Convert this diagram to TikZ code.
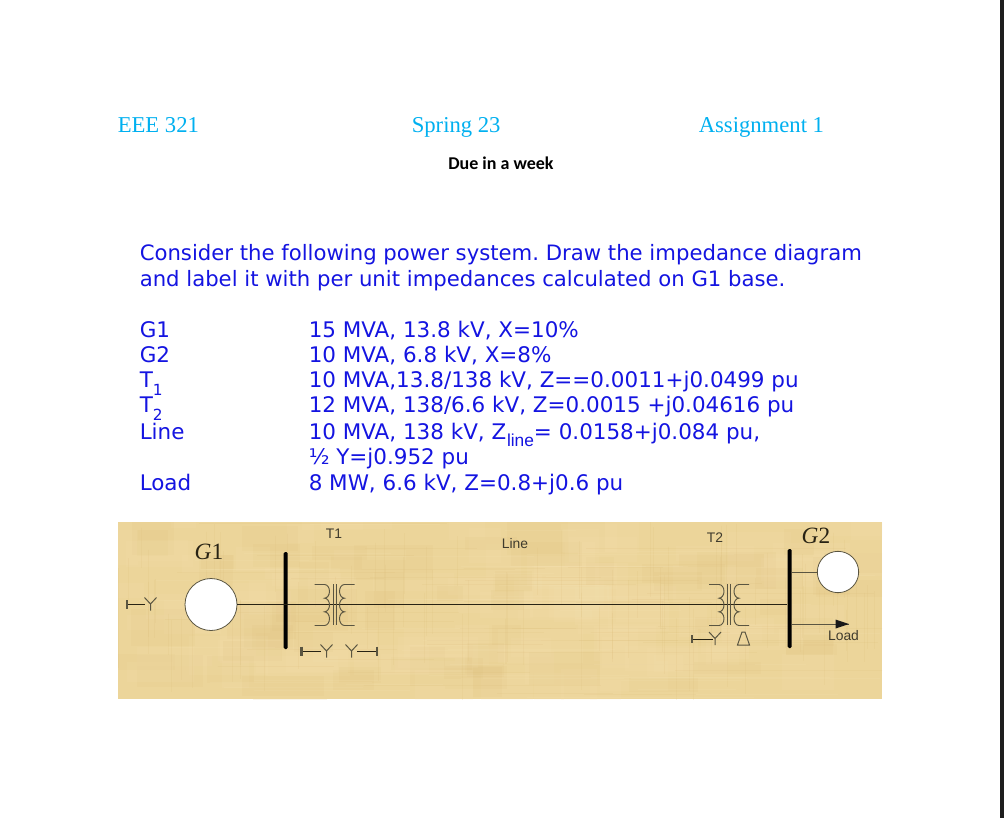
\documentclass[tikz,border=0pt]{standalone}
\usepackage{fontspec}
\setmainfont{DejaVu Sans}
\newfontfamily\hdfont{Liberation Serif}
\newfontfamily\duefont{Carlito}
\newfontfamily\arialfont{Liberation Sans}
\definecolor{hdcyan}{RGB}{0,176,240}
\definecolor{txtblue}{RGB}{20,20,225}
\definecolor{papyrus}{RGB}{236,213,154}
\definecolor{papyrusA}{RGB}{248,230,184}
\definecolor{papyrusB}{RGB}{218,186,118}
\definecolor{ink}{RGB}{40,35,20}
\definecolor{soft}{RGB}{90,85,65}
\definecolor{edgebar}{RGB}{30,30,30}
\newcommand{\coilL}[2]{% left winding centred on x=#1, y=#2
  \draw[winding] (#1-20,#2-20.5) -- (#1-10,#2-20.5)
    arc[start angle=-90,end angle=90,x radius=5,y radius=6.83]
    arc[start angle=-90,end angle=90,x radius=5,y radius=6.83]
    arc[start angle=-90,end angle=90,x radius=5,y radius=6.83]
    -- (#1-20,#2+20.5);}
\newcommand{\coilR}[2]{% right winding centred on x=#1, y=#2
  \draw[winding] (#1+20,#2-20.5) -- (#1+10,#2-20.5)
    arc[start angle=270,end angle=90,x radius=5,y radius=6.83]
    arc[start angle=270,end angle=90,x radius=5,y radius=6.83]
    arc[start angle=270,end angle=90,x radius=5,y radius=6.83]
    -- (#1+20,#2+20.5);}
\newcommand{\wyeup}[2]{% wye symbol centred on #1,#2
  \draw[symb] (#1,#2+6.5) -- (#1,#2) -- (#1-6,#2-6.5) (#1,#2) -- (#1+6,#2-6.5);}
\tikzset{
  x=0.75pt,y=-0.75pt,
  head/.style={anchor=base west,inner sep=0pt,text=hdcyan,font=\hdfont\fontsize{17}{20}\selectfont},
  due/.style={anchor=base west,inner sep=0pt,font=\duefont\bfseries\fontsize{13.5}{15}\selectfont},
  para/.style={anchor=base west,inner sep=0pt,text=txtblue,font=\frenchspacing\fontsize{15.9}{18}\selectfont},
  body/.style={anchor=base west,inner sep=0pt,text=txtblue,font=\fontsize{16.1}{18}\selectfont},
  gen/.style={circle,draw=soft,line width=0.6pt,fill=white,inner sep=0pt},
  busbar/.style={rectangle,rounded corners=1pt,fill=black,inner sep=0pt,minimum width=3pt},
  wire/.style={draw=ink,line width=0.75pt},
  winding/.style={draw=soft,line width=0.7pt},
  core/.style={draw=soft,line width=0.7pt},
  symb/.style={draw=soft,line width=0.75pt},
  lead/.style={draw=ink,line width=0.75pt},
  term/.style={draw=soft,line width=1.6pt},
  slabel/.style={inner sep=0pt,text=soft!70!black,font=\arialfont\fontsize{10.4}{12}\selectfont},
  glabel/.style={inner sep=0pt,text=ink,font=\hdfont\itshape\fontsize{17.5}{20}\selectfont},
  fibre/.style={line width=0.5pt,opacity=0.14},
  blotch/.style={opacity=0.10},
}
\newcommand{\sbs}[1]{\raisebox{-0.7ex}{\fontsize{11.5}{12}\selectfont #1}}
\begin{document}
\begin{tikzpicture}
\useasboundingbox (0,0) rectangle (1004,818);
\fill[white] (0,0) rectangle (1004,818);
\fill[edgebar] (1000,0) rectangle (1004,818);

% header
\node[head] (h1) at (117.5,132) {EEE 321};
\node[head] (h2) at (411.5,132) {Spring 23};
\node[head] (h3) at (698.5,132) {Assignment 1};
\node[due] (due) at (448,169.5) {Due in a week};

% statement
\node[para] (p1) at (139.5,260) {Consider the following power system. Draw the impedance diagram};
\node[para] (p2) at (139.5,286) {and label it with per unit impedances calculated on G1 base.};

\node[body] (a1) at (139.5,337) {G1};
\node[body] (a2) at (139.5,362) {G2};
\node[body] (a3) at (139.5,387.7) {T\sbs{1}};
\node[body] (a4) at (139.5,412.7) {T\sbs{2}};
\node[body] (a5) at (139.5,439) {Line};
\node[body] (a7) at (139.5,490) {Load};

\node[body] (b1) at (308.5,337) {15 MVA, 13.8 kV, X=10\%};
\node[body] (b2) at (308.5,362) {10 MVA, 6.8 kV, X=8\%};
\node[body] (b3) at (308.5,387.7) {10 MVA,13.8/138 kV, Z==0.0011+j0.0499 pu};
\node[body] (b4) at (308.5,412.7) {12 MVA, 138/6.6 kV, Z=0.0015 +j0.04616 pu};
\node[body] (b5) at (308.5,439) {10 MVA, 138 kV, Z\kern0.5pt{\raisebox{-0.65ex}{\arialfont\fontsize{13}{14}\selectfont line}}= 0.0158+j0.084 pu,};
\node[body] (b6) at (308.5,464.7) {½ Y=j0.952 pu};
\node[body] (b7) at (308.5,490) {8 MW, 6.6 kV, Z=0.8+j0.6 pu};

% papyrus panel
\fill[papyrus] (118,522) rectangle (882,699);
\begin{scope}
\clip (118,522) rectangle (882,699);
\pgfmathsetseed{17}
\foreach \k in {1,...,160}{
  \pgfmathsetmacro{\bx}{88+764*rnd}
  \pgfmathsetmacro{\by}{510+170*rnd}
  \pgfmathsetmacro{\bw}{25+60*rnd}
  \pgfmathsetmacro{\bh}{10+30*rnd}
  \pgfmathsetmacro{\tone}{rnd>0.45 ? 1 : 0}
  \ifdim\tone pt>0.5pt
    \fill[blotch,papyrusA] (\bx,\by) rectangle ++(\bw,\bh);
  \else
    \fill[blotch,papyrusB] (\bx,\by) rectangle ++(\bw,\bh);
  \fi
}
\foreach \k in {1,...,90}{
  \pgfmathsetmacro{\yy}{522+177*rnd}
  \pgfmathsetmacro{\xa}{118+560*rnd}
  \pgfmathsetmacro{\xb}{\xa+60+200*rnd}
  \pgfmathsetmacro{\tone}{rnd>0.5 ? 1 : 0}
  \ifdim\tone pt>0.5pt
    \draw[fibre,papyrusA] (\xa,\yy) -- (\xb,\yy);
  \else
    \draw[fibre,papyrusB] (\xa,\yy) -- (\xb,\yy);
  \fi
  \pgfmathsetmacro{\xx}{118+764*rnd}
  \pgfmathsetmacro{\ya}{522+100*rnd}
  \pgfmathsetmacro{\yb}{\ya+40+60*rnd}
  \draw[fibre,papyrusB] (\xx,\ya) -- (\xx,\yb);
}
\end{scope}

% labels
\node[glabel] (lg1) at (209,552) {G{\upshape 1}};
\node[glabel] (lg2) at (816,536) {G{\upshape 2}};
\node[slabel] (lt1) at (334,534) {T1};
\node[slabel] (lline) at (515,543.5) {Line};
\node[slabel] (lt2) at (715,537.5) {T2};
\node[slabel] (lload) at (843.5,636) {Load};

% buses and machines
\node[busbar,minimum height=72.75pt] (bus1) at (285.7,600.5) {};
\node[busbar,minimum height=74.25pt] (bus2) at (789.7,598.5) {};
\node[gen,minimum size=39pt] (g1) at (211,604.5) {};
\node[gen,minimum size=31pt] (g2) at (838,572) {};

% connectors
\draw[wire] (g1.east) -- (g1.east -| bus2.west);
\draw[wire,draw=soft] (g2.west) -- (g2.west -| bus2.east);
\coordinate (loadtip) at (849,624);
\draw[wire,draw=soft] (loadtip -| bus2.east) -- (loadtip);
\fill[black!90] (835.5,619.5) -- (loadtip) -- (835.5,628.5) -- cycle;

% transformers
\coilL{334.5}{605}\coilR{334.5}{605}
\draw[core] (333,584) -- (333,625) (336,584) -- (336,625);
\coilL{729}{605}\coilR{729}{605}
\draw[core,line width=1.1pt] (727.7,584) -- (727.7,625) (730.4,584) -- (730.4,625);

% grounding symbols
\coordinate (ga) at (127,604.5);
\coordinate (gb) at (145,604.5);
\draw[lead] (ga) -- (gb); \draw[term] (126.7,600) -- (126.7,609);
\wyeup{150.5}{604}
\coordinate (ta) at (301.5,651);
\coordinate (tb) at (321,651);
\draw[lead] (ta) -- (tb); \draw[term] (301.5,646.5) -- (301.5,655.5);
\wyeup{326.5}{651}
\wyeup{351.5}{651}
\coordinate (tc) at (357,651);
\coordinate (td) at (377,651);
\draw[lead] (tc) -- (td); \draw[term] (377,646.5) -- (377,655.5);
\coordinate (te) at (692,639);
\coordinate (tf) at (713,639);
\draw[lead] (te) -- (tf); \draw[term] (692,635) -- (692,643);
\wyeup{715}{638.5}
\draw[symb] (737.5,645) -- (742,632) -- (745,632) -- (749.5,645) -- cycle;
\end{tikzpicture}
\end{document}
